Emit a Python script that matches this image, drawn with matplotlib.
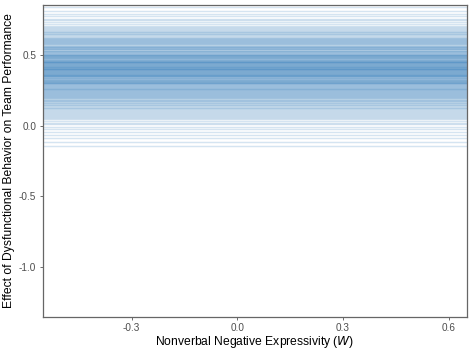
"""
Posterior draws of the conditional effect of dysfunctional behavior on team
performance, plotted against nonverbal negative expressivity (W). Each draw is
a flat line across the range of W.
"""

import matplotlib

matplotlib.use("Agg")
import matplotlib.pyplot as plt

# slope draws (effect of dysfunctional behavior)
effect_draws = [
    0.842, 0.813,
    0.791, 0.772, 0.756,
    0.746, 0.731, 0.718, 0.703,
    0.698, 0.692, 0.684, 0.679, 0.671, 0.664, 0.659, 0.652,
    0.648, 0.645, 0.638, 0.634, 0.629, 0.623, 0.619, 0.614, 0.611, 0.607, 0.603, 0.601,
    0.597, 0.594, 0.589, 0.586, 0.581, 0.577, 0.574, 0.569, 0.566, 0.562, 0.558, 0.555,
    0.553, 0.551,
    0.548, 0.545, 0.542, 0.539, 0.536, 0.531, 0.528, 0.525, 0.522, 0.519, 0.516, 0.512,
    0.509, 0.506, 0.503, 0.501,
    0.498, 0.496, 0.494, 0.491, 0.489, 0.487, 0.484, 0.482, 0.479, 0.477, 0.475, 0.472,
    0.469, 0.467, 0.465, 0.462, 0.459, 0.457, 0.455, 0.453, 0.452, 0.451,
    0.449, 0.447, 0.445, 0.443, 0.441, 0.438, 0.436, 0.434, 0.432, 0.429, 0.427, 0.425,
    0.423, 0.421, 0.418, 0.416, 0.414, 0.412, 0.409, 0.407, 0.405, 0.403, 0.402, 0.401,
    0.399, 0.397, 0.394, 0.392, 0.391, 0.388, 0.386, 0.384, 0.382, 0.379, 0.377, 0.375,
    0.372, 0.371, 0.368, 0.366, 0.364, 0.361, 0.359, 0.357, 0.355, 0.353, 0.352, 0.351,
    0.348, 0.345, 0.343, 0.339, 0.337, 0.334, 0.331, 0.329, 0.326, 0.324, 0.321, 0.318,
    0.316, 0.313, 0.311, 0.308, 0.306, 0.304, 0.302, 0.301,
    0.298, 0.295, 0.291, 0.288, 0.285, 0.281, 0.278, 0.275, 0.272, 0.268, 0.265, 0.262,
    0.259, 0.256, 0.253, 0.251,
    0.247, 0.243, 0.239, 0.236, 0.232, 0.229, 0.225, 0.222, 0.218, 0.215, 0.211, 0.208,
    0.204, 0.201,
    0.197, 0.193, 0.188, 0.184, 0.179, 0.175, 0.171, 0.166, 0.162, 0.157, 0.153,
    0.148, 0.143, 0.137, 0.131, 0.126, 0.121, 0.115, 0.109, 0.104,
    0.097, 0.091, 0.084, 0.077, 0.069, 0.062, 0.054,
    0.046, 0.033, 0.021, 0.008,
    -0.012, -0.027, -0.043,
    -0.064, -0.088,
    -0.117, -0.142,
]

x_ticks = [-0.3, 0.0, 0.3, 0.6]
x_tick_labels = ["-0.3", "0.0", "0.3", "0.6"]
y_ticks = [-1.0, -0.5, 0.0, 0.5]
y_tick_labels = ["-1.0", "-0.5", "0.0", "0.5"]

plt.rcParams["font.family"] = ["Liberation Sans", "DejaVu Sans"]

fig = plt.figure(figsize=(4.74, 3.55), dpi=100)
ax = fig.add_axes([0.090, 0.108, 0.895, 0.877])

for value in effect_draws:
    ax.axhline(value, color="#2f7ab9", alpha=0.2, linewidth=1.05)

ax.set_xlim(-0.553, 0.652)
ax.set_ylim(-1.352, 0.851)
ax.set_xticks(x_ticks)
ax.set_xticklabels(x_tick_labels)
ax.set_yticks(y_ticks)
ax.set_yticklabels(y_tick_labels)
ax.tick_params(axis="both", length=2.5, width=0.6, color="#555555",
               labelcolor="#4d4d4d", labelsize=7.2, pad=2)

for spine in ax.spines.values():
    spine.set_color("#666666")
    spine.set_linewidth(0.9)

ax.set_xlabel("Nonverbal Negative Expressivity ($W$)", fontsize=8.7, labelpad=1)
ax.set_ylabel("Effect of Dysfunctional Behavior on Team Performance", fontsize=8.7,
              labelpad=3)

fig.savefig("out.png", dpi=100)
plt.close(fig)
